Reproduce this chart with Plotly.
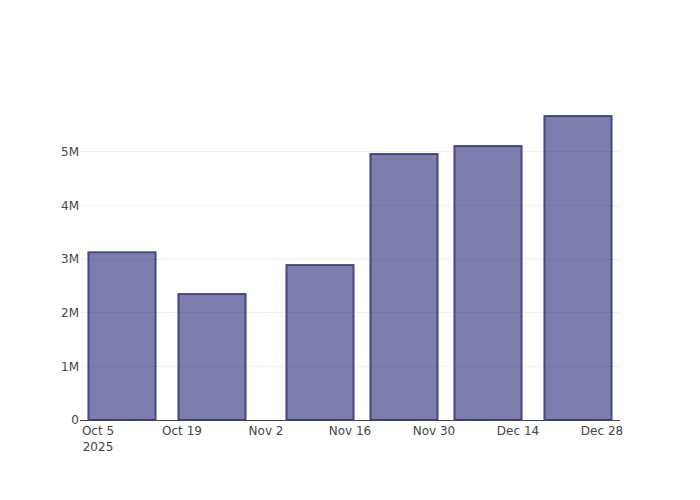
import plotly.graph_objects as go

dates = ["2025-10-09", "2025-10-24", "2025-11-11", "2025-11-25", "2025-12-09", "2025-12-24"]
values = [3130000, 2350000, 2890000, 4960000, 5110000, 5670000]

fig = go.Figure(go.Bar(
    x=dates, y=values,
    marker=dict(color="rgba(40,40,120,0.6)", line=dict(color="rgba(45,45,115,0.8)", width=2)),
))
fig.update_layout(
    width=700, height=500, template="plotly_white",
    margin=dict(l=72, r=88, t=92, b=88),
    font=dict(family="DejaVu Sans", size=12, color="#444"),
    showlegend=False,
)
fig.update_xaxes(range=["2025-10-02", "2025-12-31"], dtick=14*86400000, tick0="2025-10-05",
                 showgrid=False, showline=True, linecolor="#444")
fig.update_yaxes(gridcolor="#eee", zeroline=False, showline=False, tickformat="~s")
fig.write_html("out.html")
